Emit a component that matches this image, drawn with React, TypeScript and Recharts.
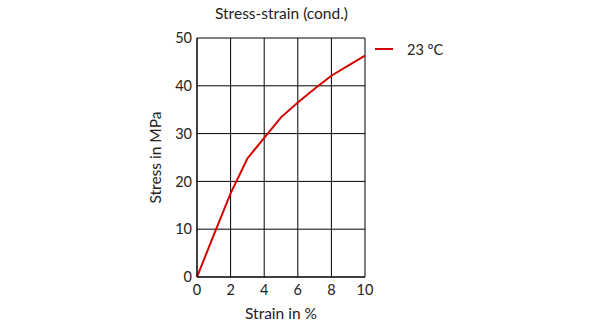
import React from 'react';
import { LineChart, Line, XAxis, YAxis, CartesianGrid } from 'recharts';

const strain = [0, 1, 2, 3, 4, 5, 6, 7, 8, 9, 10];
const stress = [0, 8.8, 17.5, 24.8, 29.1, 33.4, 36.5, 39.4, 42.1, 44.2, 46.3];
const xTicks = [0, 2, 4, 6, 8, 10];
const yTicks = [0, 10, 20, 30, 40, 50];
const seriesName = '23 °C';
const title = 'Stress-strain (cond.)';
const xLabel = 'Strain in %';
const yLabel = 'Stress in MPa';

const data = strain.map((s, i) => ({ strain: s, stress: stress[i] }));

const FONT = 'Lato, "Open Sans", sans-serif';
const RED = '#d40000';
const TICK = 14.5;
const LAB = 15.5;

export default function App() {
  return (
    <div style={{ position: 'absolute', left: 0, top: 0, width: 591, height: 332, background: '#fff', fontFamily: FONT }}>
      <div style={{ position: 'absolute', left: 0, top: 3, width: 563, textAlign: 'center', fontSize: LAB, color: '#222', lineHeight: '20px' }}>
        {title}
      </div>
      <div style={{ position: 'absolute', left: 375, top: 39, height: 20, display: 'flex', alignItems: 'center' }}>
        <div style={{ width: 18, height: 2, background: RED }} />
        <div style={{ marginLeft: 14, fontSize: TICK, color: '#222' }}>{seriesName}</div>
      </div>
      <LineChart
        width={591}
        height={332}
        data={data}
        margin={{ top: 38, right: 226, bottom: 25, left: 157 }}
      >
        <CartesianGrid stroke="#000" strokeWidth={1} />
        <XAxis
          dataKey="strain"
          type="number"
          domain={[0, 10]}
          ticks={xTicks}
          tickLine={false}
          axisLine={{ stroke: '#000' }}
          tick={{ fill: '#222', fontSize: TICK, fontFamily: FONT }}
          height={30}
          label={{ value: xLabel, position: 'insideBottom', offset: -12, fill: '#222', fontSize: LAB, fontFamily: FONT }}
        />
        <YAxis
          type="number"
          domain={[0, 50]}
          ticks={yTicks}
          tickLine={false}
          axisLine={{ stroke: '#000' }}
          tick={{ fill: '#222', fontSize: TICK, fontFamily: FONT, dx: 3 }}
          width={40}
          label={{ value: yLabel, angle: -90, position: 'insideLeft', offset: 0, dx: -2, fill: '#222', fontSize: LAB, fontFamily: FONT, style: { textAnchor: 'middle' } }}
        />
        <Line
          type="linear"
          dataKey="stress"
          name={seriesName}
          stroke={RED}
          strokeWidth={2}
          dot={false}
          isAnimationActive={false}
        />
      </LineChart>
    </div>
  );
}
